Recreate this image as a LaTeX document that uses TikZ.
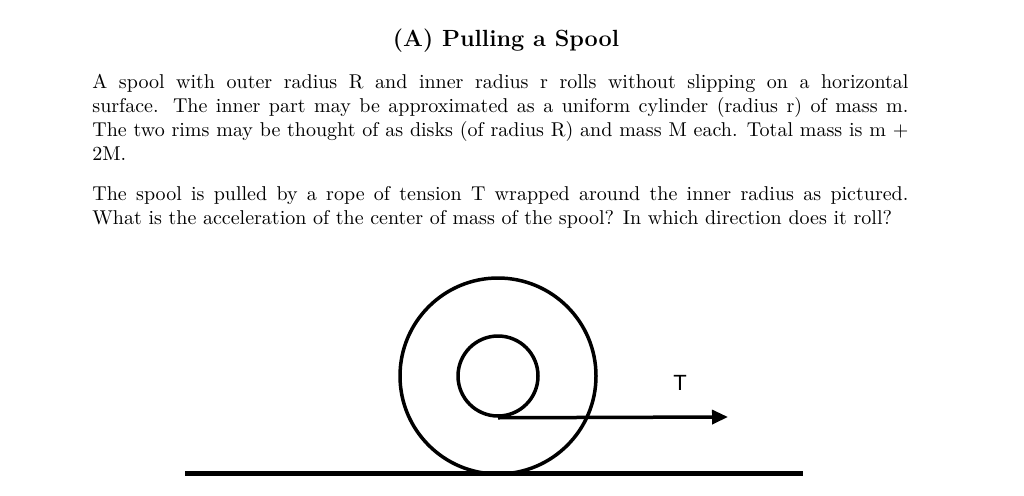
\documentclass[tikz,border=0pt]{standalone}
\usepackage{fontspec}
\setsansfont{Liberation Sans}
\usetikzlibrary{arrows.meta}
\begin{document}
\begin{tikzpicture}[x=1pt,y=-1pt,
  body/.style={anchor=north west,text width=408pt,align=justify,inner sep=0pt,scale=2.0,transform shape,font=\fontsize{10}{12}\selectfont},
  line/.style={line width=3.5pt}]
\useasboundingbox (0,0) rectangle (1024,495);
\node[scale=1.95,transform shape,font=\fontsize{12}{14}\selectfont\bfseries] (title) at (506,41) {(A) Pulling a Spool};
\node[body] (p1) at (92,74) {A spool with outer radius R and inner radius r rolls without slipping on a horizontal\linebreak surface. The inner part may be approximated as a uniform cylinder (radius r) of mass m.\linebreak The two rims may be thought of as disks (of radius R) and mass M each. Total mass is m +\linebreak 2M.};
\node[body] (p2) at (92,186) {The spool is pulled by a rope of tension T wrapped around the inner radius as pictured.\linebreak What is the acceleration of the center of mass of the spool? In which direction does it roll?};
\node[circle,draw,line,minimum size=196pt,inner sep=0pt] (outer) at (498,376) {};
\node[circle,draw,line,minimum size=80pt,inner sep=0pt] (inner) at (498,376) {};
\coordinate (tip) at (728,417);
\draw[line,-{Triangle[length=16pt,width=14pt]}] (inner.south) -- (tip);
\node[font=\sffamily\fontsize{22}{26}\selectfont] (T) at (680,383) {T};
\coordinate (g1) at (185,473);
\coordinate (g2) at (803,473);
\draw[line width=5pt] (g1) -- (g2);
\end{tikzpicture}
\end{document}
